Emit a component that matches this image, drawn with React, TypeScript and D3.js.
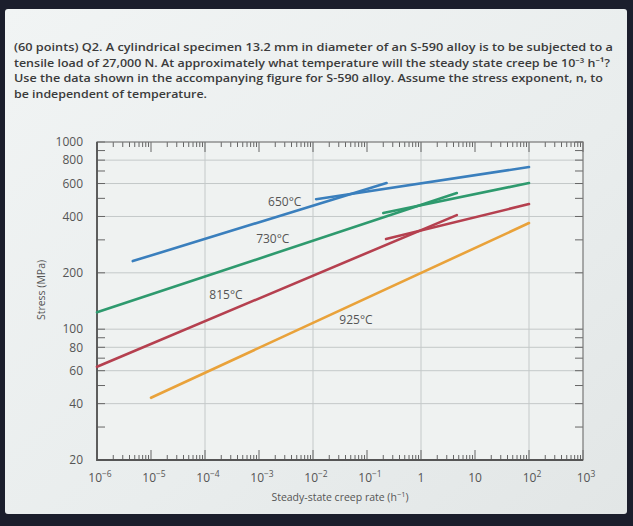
import React from 'react';
import * as d3 from 'd3';

// question text (one entry per printed line)
const questionLines = [
  '(60 points) Q2. A cylindrical specimen 13.2 mm in diameter of an S-590 alloy is to be subjected to a',
  'tensile load of 27,000 N. At approximately what temperature will the steady state creep be 10⁻³ h⁻¹?',
  'Use the data shown in the accompanying figure for S-590 alloy. Assume the stress exponent, n, to',
  'be independent of temperature.',
];
const questionWidths = [599, 596, 589, 193];

// axis ticks
const rateExponents = [-6, -5, -4, -3, -2, -1, 0, 1, 2, 3];
const rateGrid = [1e-4, 1e-2, 1, 1e2];
const stressLabels = [20, 40, 60, 80, 100, 200, 400, 600, 800, 1000];
const stressGrid = [40, 60, 80, 100, 200, 400, 600, 800];
const stressMinor = [30, 50, 70, 90, 300, 500, 700, 900];

// creep curves: each temperature has one or two straight segments [rate (1/h), stress (MPa)]
const temps = ['650°C', '730°C', '815°C', '925°C'];
const colors = ['#3a7fbd', '#2e9a6e', '#b5404f', '#e9a23a'];
const seg650: [number, number][][] = [
  [[4.6e-6, 231], [0.23, 604]],
  [[0.0114, 495], [100, 735]],
];
const seg730: [number, number][][] = [
  [[1e-6, 123], [4.6, 534]],
  [[0.2, 417], [100, 604]],
];
const seg815: [number, number][][] = [
  [[1e-6, 63], [4.6, 407]],
  [[0.225, 303], [100, 466]],
];
const seg925: [number, number][][] = [[[1e-5, 43], [100, 369]]];
const series = [seg650, seg730, seg815, seg925];

// label anchors [rate, stress]
const labelAnchors: [number, number][] = [
  [3.0e-3, 477],
  [1.8e-3, 303],
  [2.45e-4, 152],
  [0.0625, 112],
];

const x = d3.scaleLog().domain([1e-6, 1e3]).range([97, 583]);
const y = d3.scaleLog().domain([20, 1000]).range([460, 142]);

const line = d3
  .line<[number, number]>()
  .x((d) => x(d[0]))
  .y((d) => y(d[1]));

const minorRates: number[] = [];
rateExponents.slice(0, -1).forEach((e) => {
  for (let k = 2; k <= 9; k++) minorRates.push(k * Math.pow(10, e));
});

const App: React.FC = () => {
  const [x0, x1] = x.range();
  const [y0, y1] = y.range();
  const axisFont = '"Open Sans", "Noto Sans", sans-serif';

  return (
    <div style={{ position: 'fixed', left: 0, top: 0 }}>
      <svg width={633} height={526} style={{ display: 'block' }}>
        <defs>
          <linearGradient id="page" x1="0" y1="0" x2="1" y2="1">
            <stop offset="0%" stopColor="#f1f4f4" />
            <stop offset="60%" stopColor="#e9eded" />
            <stop offset="100%" stopColor="#e2e6e6" />
          </linearGradient>
        </defs>
        <rect width={633} height={526} fill="#1b1e2c" />
        <rect x={5} y={9} width={622} height={505} rx={3} fill="url(#page)" />

        {/* question */}
        <g fontFamily={axisFont} fontSize={11} fill="#3b3b3b" fontWeight={600}>
          {questionLines.map((t, i) => (
            <text
              key={i}
              x={14}
              y={51 + i * 15.6}
              textLength={questionWidths[i]}
              lengthAdjust="spacingAndGlyphs"
            >
              {t}
            </text>
          ))}
        </g>

        {/* plot background */}
        <rect x={x0} y={y1} width={x1 - x0} height={y0 - y1} fill="#eff2f1" />

        {/* grid */}
        <g stroke="#c4c9c9" strokeWidth={1}>
          {stressGrid.map((s) => (
            <line key={'h' + s} x1={x0} x2={x1} y1={y(s)} y2={y(s)} />
          ))}
          {rateGrid.map((r) => (
            <line key={'v' + r} x1={x(r)} x2={x(r)} y1={y0} y2={y1} />
          ))}
        </g>

        {/* ticks */}
        <g stroke="#666" strokeWidth={1}>
          {rateExponents.map((e) => {
            const px = x(Math.pow(10, e));
            return (
              <g key={'rt' + e}>
                <line x1={px} x2={px} y1={y0} y2={y0 - 10} />
                <line x1={px} x2={px} y1={y1} y2={y1 + 10} />
              </g>
            );
          })}
          {minorRates.map((r, i) => (
            <g key={'rm' + i}>
              <line x1={x(r)} x2={x(r)} y1={y0} y2={y0 - 5} />
              <line x1={x(r)} x2={x(r)} y1={y1} y2={y1 + 5} />
            </g>
          ))}
          {stressLabels.concat(stressMinor).map((s) => (
            <g key={'st' + s}>
              <line x1={x0} x2={x0 + 8} y1={y(s)} y2={y(s)} />
              <line x1={x1} x2={x1 - 8} y1={y(s)} y2={y(s)} />
            </g>
          ))}
        </g>

        {/* frame */}
        <rect
          x={x0}
          y={y1}
          width={x1 - x0}
          height={y0 - y1}
          fill="none"
          stroke="#777"
          strokeWidth={1.2}
        />
        <path
          d={`M${x0},${y1}V${y0}H${x1}`}
          fill="none"
          stroke="#555"
          strokeWidth={1.8}
        />

        {/* curves */}
        {series.map((segs, i) => (
          <g key={temps[i]}>
            {segs.map((s, j) => (
              <path
                key={j}
                d={line(s) || ''}
                fill="none"
                stroke={colors[i]}
                strokeWidth={2.6}
                strokeLinecap="round"
              />
            ))}
          </g>
        ))}

        {/* curve labels */}
        <g fontFamily={axisFont} fontSize={12} fill="#555" textAnchor="middle">
          {temps.map((t, i) => (
            <text
              key={t}
              x={x(labelAnchors[i][0])}
              y={y(labelAnchors[i][1])}
              dy="0.35em"
            >
              {t}
            </text>
          ))}
        </g>

        {/* x tick labels */}
        <g fontFamily={axisFont} fontSize={12} fill="#555" textAnchor="middle">
          {rateExponents.map((e) => {
            const px = x(Math.pow(10, e));
            if (e === 0)
              return (
                <text key={e} x={px} y={482}>
                  1
                </text>
              );
            if (e === 1)
              return (
                <text key={e} x={px} y={482}>
                  10
                </text>
              );
            return (
              <text key={e} x={px + 3} y={482}>
                10
                <tspan fontSize={8.5} dy={-5}>
                  {e < 0 ? '−' + Math.abs(e) : String(e)}
                </tspan>
              </text>
            );
          })}
        </g>

        {/* y tick labels */}
        <g fontFamily={axisFont} fontSize={12} fill="#555" textAnchor="end">
          {stressLabels.map((s) => (
            <text key={s} x={83} y={y(s)} dy="0.35em">
              {s}
            </text>
          ))}
        </g>

        {/* axis titles */}
        <text
          x={340}
          y={501}
          textAnchor="middle"
          fontFamily={axisFont}
          fontSize={10.5}
          fill="#555"
        >
          Steady-state creep rate (h
          <tspan fontSize={7.5} dy={-4}>
            −1
          </tspan>
          <tspan dy={4}>)</tspan>
        </text>
        <text
          transform="translate(45,290) rotate(-90)"
          textAnchor="middle"
          fontFamily={axisFont}
          fontSize={10.5}
          fill="#555"
        >
          Stress (MPa)
        </text>
      </svg>
    </div>
  );
};

export default App;
